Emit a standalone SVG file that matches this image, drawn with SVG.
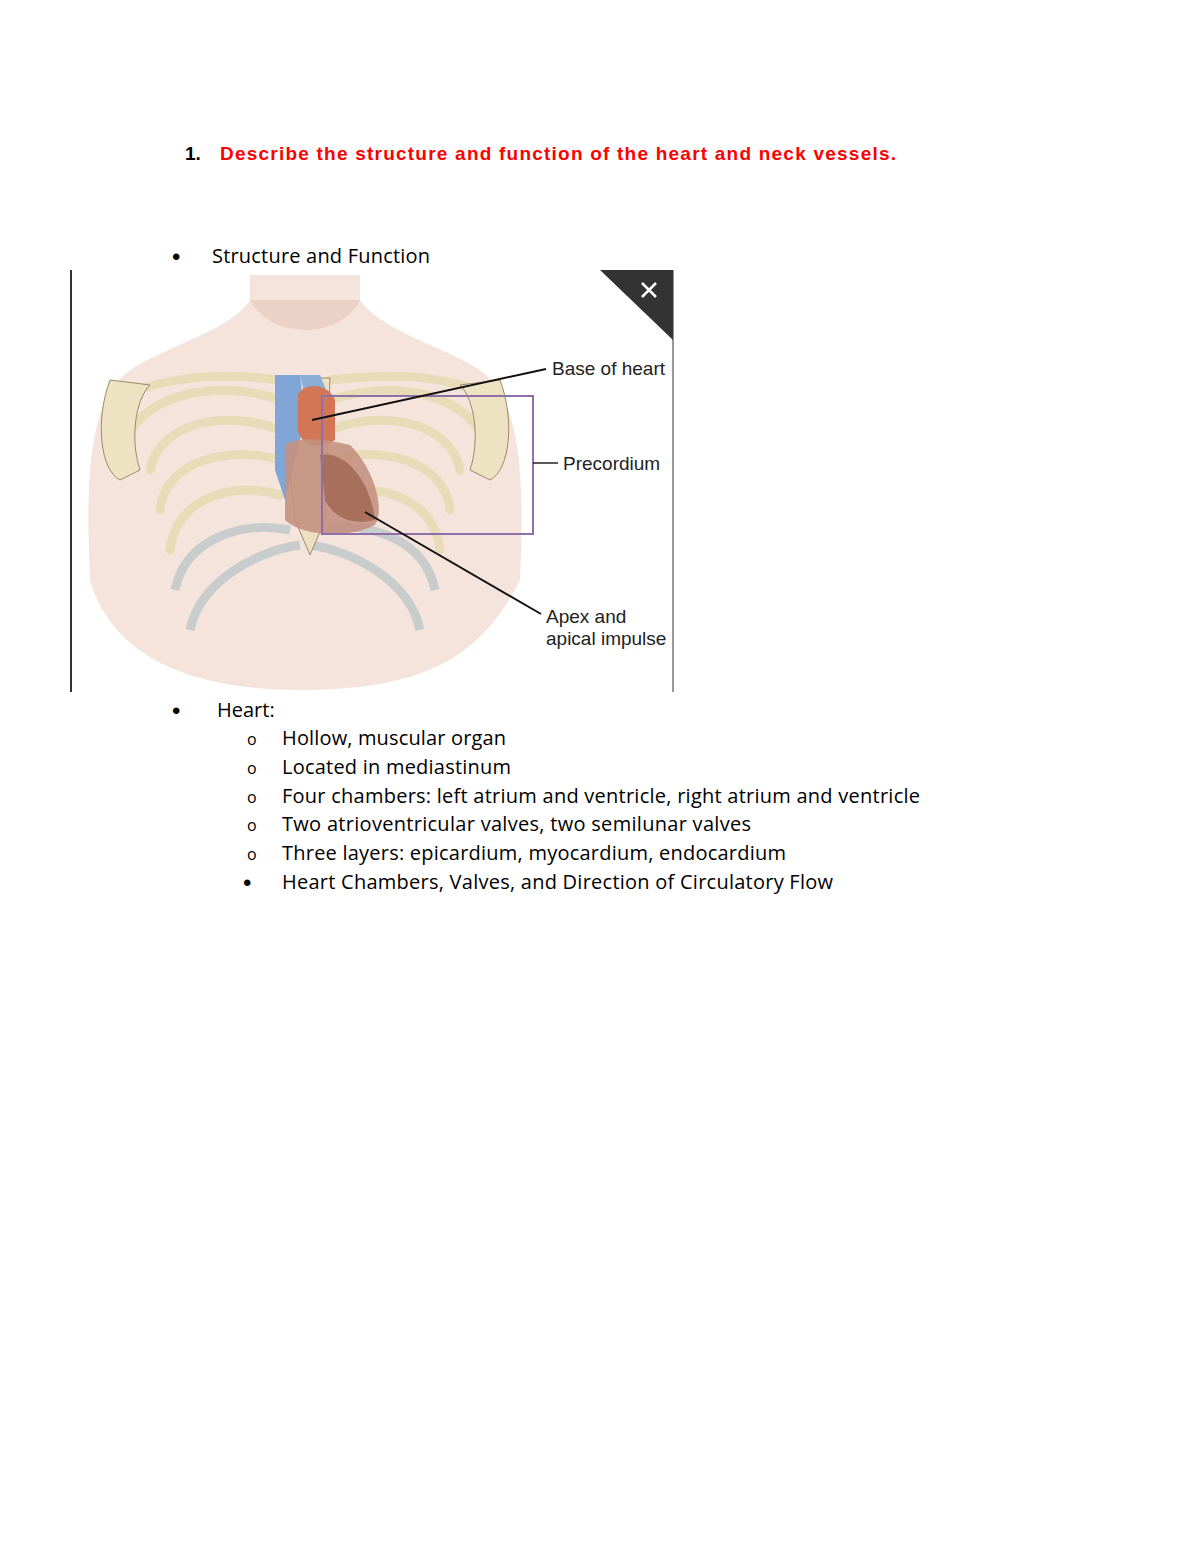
<svg xmlns="http://www.w3.org/2000/svg" width="1200" height="1553" viewBox="0 0 1200 1553">
<style>
.t{font-family:"Open Sans","Liberation Sans",sans-serif;font-size:20px;fill:#000}
.b{font-family:"Liberation Sans",sans-serif;font-size:24px;fill:#000}
.l{font-family:"Liberation Sans",Arial,sans-serif;font-size:19px;fill:#222}
.rib{fill:none;stroke:#e8dcb8;stroke-width:9;stroke-linecap:round}
.cart{fill:none;stroke:#c8cccc;stroke-width:9}
</style>
<rect width="1200" height="1553" fill="#fff"/>
<text x="185" y="160" font-family="Liberation Sans,Arial,sans-serif" font-weight="bold" font-size="19">1.</text>
<text x="220" y="160" font-family="Liberation Sans,Arial,sans-serif" font-weight="bold" font-size="19" fill="#ff0000" textLength="676">Describe the structure and function of the heart and neck vessels.</text>
<text class="b" x="172" y="265">•</text>
<text class="t" x="212" y="263" textLength="218">Structure and Function</text>
<g id="illustration">
<line x1="71" y1="270" x2="71" y2="692" stroke="#333" stroke-width="2"/>
<line x1="673" y1="270" x2="673" y2="692" stroke="#333" stroke-width="1"/>
<path d="M90,580 C85,470 90,400 130,370 C180,340 230,330 250,300 L250,275 L360,275 L360,300 C380,330 440,345 480,370 C520,400 525,470 520,580 C480,660 420,690 300,690 C180,690 110,650 90,580 Z" fill="#f5e4dc"/>
<path d="M250,300 C270,340 340,340 360,300" fill="#ecd2c6"/>
<g>
<path class="rib" d="M110,400 C180,370 240,375 280,380"/>
<path class="rib" d="M330,380 C380,375 440,370 500,400"/>
<path class="rib" d="M125,440 C150,390 220,380 280,400"/>
<path class="rib" d="M330,400 C390,380 460,390 485,440"/>
<path class="rib" d="M150,470 C160,420 230,410 280,430"/>
<path class="rib" d="M330,430 C380,410 450,420 460,470"/>
<path class="rib" d="M160,510 C165,460 230,445 280,460"/>
<path class="rib" d="M330,460 C380,445 445,460 450,510"/>
<path class="rib" d="M170,550 C175,500 230,480 280,495"/>
<path class="rib" d="M330,495 C380,480 435,500 440,550"/>
<path class="cart" d="M175,590 C185,540 240,520 290,530"/>
<path class="cart" d="M320,530 C370,520 425,540 435,590"/>
<path class="cart" d="M190,630 C200,580 260,550 300,545"/>
<path class="cart" d="M310,545 C350,550 410,580 420,630"/>
<path d="M110,380 C95,420 100,470 120,480 L140,470 C130,440 135,400 150,385 Z" fill="#ede2c2" stroke="#9a8a6a"/>
<path d="M500,380 C515,420 510,470 490,480 L470,470 C480,440 475,400 460,385 Z" fill="#ede2c2" stroke="#9a8a6a"/>
<path d="M280,378 L330,378 L325,520 L310,555 L295,520 Z" fill="#ece0c0" stroke="#9a8a6a"/>
</g>
<path d="M275,375 L300,375 L305,420 L285,500 L275,470 Z" fill="#7fa6d6"/>
<path d="M300,375 L320,375 L330,400 L315,440 Z" fill="#8aaed8"/>
<path d="M298,395 C305,380 330,385 335,400 L335,440 C320,450 300,445 298,430 Z" fill="#d27656"/>
<path d="M285,445 C300,435 330,440 350,445 C375,470 385,510 375,525 C345,540 300,535 285,520 Z" fill="#c49080" opacity="0.9"/>
<path d="M320,455 C345,450 370,480 375,520 C355,525 335,520 325,500 Z" fill="#a8705c"/>
<rect x="322" y="396" width="211" height="138" fill="none" stroke="#8e6fa8" stroke-width="2"/>
<line x1="533" y1="463" x2="558" y2="463" stroke="#222" stroke-width="1.5"/>
<line x1="312" y1="420" x2="546" y2="369" stroke="#111" stroke-width="2"/>
<line x1="365" y1="512" x2="541" y2="614" stroke="#111" stroke-width="2"/>
<text class="l" x="552" y="375">Base of heart</text>
<text class="l" x="563" y="470">Precordium</text>
<text class="l" x="546" y="623">Apex and</text>
<text class="l" x="546" y="645">apical impulse</text>
<polygon points="600,270 673,270 673,340" fill="#333"/>
<path d="M642,283 L656,297 M656,283 L642,297" stroke="#fff" stroke-width="2.5"/>
</g>
<text class="b" x="172" y="719">•</text>
<text class="t" x="217" y="717">Heart:</text>
<g class="t">
<text x="247" y="745" font-size="16">o</text><text x="282" y="745" textLength="224">Hollow, muscular organ</text>
<text x="247" y="774" font-size="16">o</text><text x="282" y="774" textLength="229">Located in mediastinum</text>
<text x="247" y="803" font-size="16">o</text><text x="282" y="803" textLength="638">Four chambers: left atrium and ventricle, right atrium and ventricle</text>
<text x="247" y="831" font-size="16">o</text><text x="282" y="831" textLength="469">Two atrioventricular valves, two semilunar valves</text>
<text x="247" y="860" font-size="16">o</text><text x="282" y="860" textLength="504">Three layers: epicardium, myocardium, endocardium</text>
<text class="b" x="243" y="891">•</text><text x="282" y="889" textLength="551">Heart Chambers, Valves, and Direction of Circulatory Flow</text>
</g>
</svg>
